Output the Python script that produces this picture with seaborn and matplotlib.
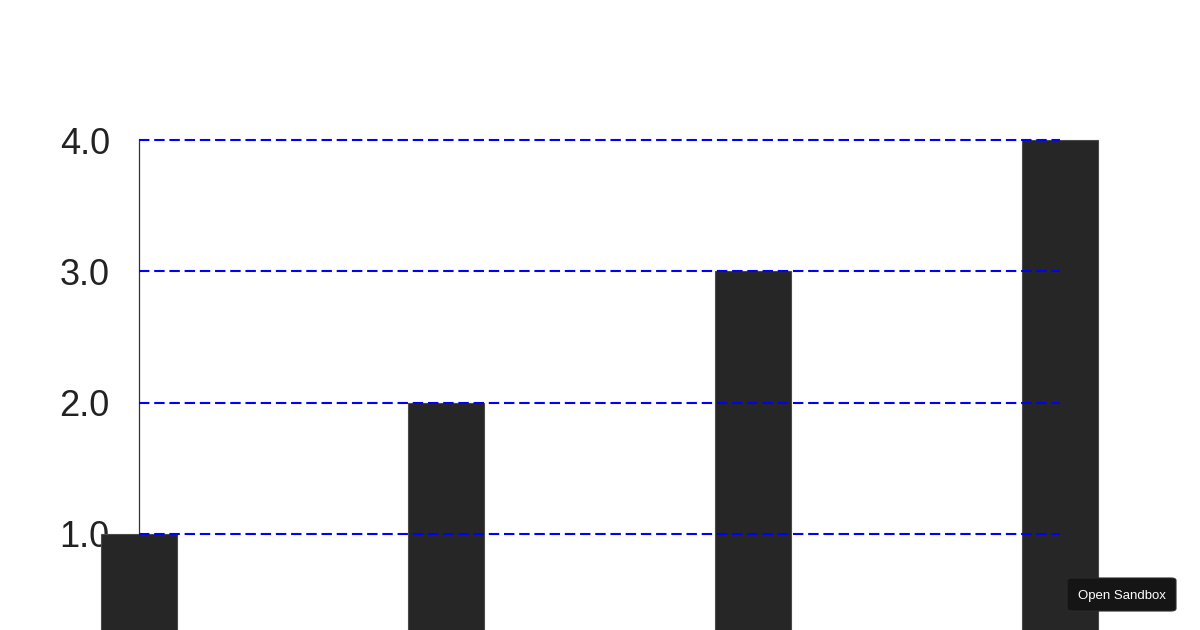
import pandas as pd
import matplotlib.pyplot as plt
from matplotlib.patches import FancyBboxPatch
import seaborn as sns

# data
categories = ["A", "B", "C", "D"]
values = [1.0, 2.0, 3.0, 4.0]
grid_levels = [1.0, 2.0, 3.0, 4.0]
tick_labels = ["1.0", "2.0", "3.0", "4.0"]

df = pd.DataFrame({"category": categories, "value": values})

sns.set_style("white")
plt.rcParams["font.family"] = ["Liberation Sans", "DejaVu Sans"]

fig = plt.figure(figsize=(12, 6.3), dpi=100)
ax = fig.add_axes([139 / 1200, 0, (1060 - 139) / 1200, 490 / 630])

sns.barplot(data=df, x="category", y="value", color="#262626", width=0.25,
            saturation=1, ax=ax, zorder=3)
for p in ax.patches:
    p.set_clip_on(False)
    p.set_edgecolor("#4a4a4a")
    p.set_linewidth(0.8)

# dashed guide lines above the bars
for lvl in grid_levels:
    ax.axhline(lvl, color="#0000ff", linewidth=1.5, linestyle=(0, (5, 2.3)),
               zorder=4, clip_on=False)

ax.set_xlim(0, len(categories) - 1)
ax.set_ylim(0.269, 4.0)
ax.set_yticks(grid_levels)
ax.set_yticklabels(tick_labels, fontsize=26, color="#222222")
ax.tick_params(axis="y", length=0, pad=21)
ax.set_xticks([])
ax.set_xlabel("")
ax.set_ylabel("")

for side in ["top", "right", "bottom"]:
    ax.spines[side].set_visible(False)
ax.spines["left"].set_color("#333333")
ax.spines["left"].set_linewidth(0.9)
ax.spines["left"].set_zorder(2)

# sandbox button in the corner
btn = FancyBboxPatch((1067 / 1200, 1 - 611 / 630), 109 / 1200, 33 / 630,
                     boxstyle="round,pad=0,rounding_size=0.004",
                     transform=fig.transFigure, facecolor="#151515",
                     edgecolor="#2a2a2a", linewidth=0.8, zorder=10)
fig.patches.append(btn)
fig.text(1121.5 / 1200, 1 - 595.5 / 630, "Open Sandbox", color="white",
         fontsize=9.5, ha="center", va="center", zorder=11)

plt.savefig("out.png", dpi=100)
